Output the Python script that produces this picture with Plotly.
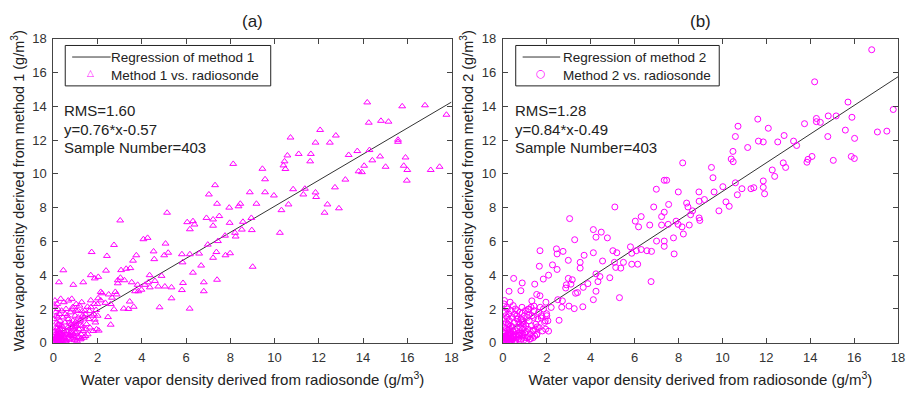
import plotly.graph_objects as go

# ---------------- data ----------------
# Panel (a): method 1 vs radiosonde
x_a = [14.19, 15.77, 16.8, 17.77, 14.26, 14.81, 15.15, 12.06, 12.77, 10.72, 11.85, 12.5, 15.58, 15.58,
       14.29, 13.74, 13.35, 11.64, 11.09, 10.58, 15.92, 14.77, 14.42, 11.61, 10.45, 10.4, 10.49, 8.13,
       14.05, 15.02, 15.84, 16.0, 17.06, 17.46, 13.8, 13.95, 15.98, 13.2, 9.45, 9.57, 7.31, 7.03, 8.88,
       9.57, 9.97, 10.84, 11.37, 11.3, 11.85, 11.88, 12.73,
       7.4, 8.45, 9.18, 7.95, 8.37, 12.39, 12.26, 12.91, 10.31, 10.63, 5.14, 3.02, 6.92, 7.22, 7.5, 7.97,
       8.57, 8.95, 6.05, 6.31, 6.38, 7.22, 6.17, 8.52, 8.21, 8.24, 8.97, 10.24, 7.76,
       1.73, 2.42, 2.74, 3.75, 4.07, 4.26, 4.53, 4.56, 5.07, 5.01, 5.19, 5.81, 5.84, 6.17, 6.59, 6.68,
       6.98, 7.22, 7.37, 7.44, 7.78, 7.99, 9.01, 6.31, 4.89, 4.35, 3.48, 3.6, 3.29, 3.06, 2.38, 1.69,
       2.03, 1.87, 0.45, 1.35, 0.9, 0.25,
       2.91, 3.03, 3.21, 2.91, 3.54, 3.81, 3.69, 3.84, 4.14, 4.29, 4.59, 4.74, 5.04, 5.34, 5.34, 5.86,
       5.81, 6.8, 6.8, 7.4, 6.16, 4.8, 4.36, 3.98, 3.45, 3.63, 3.39, 3.18, 2.74, 2.35,
       2.14, 2.2, 2.5, 2.59, 2.14, 2.02, 1.99, 1.93, 1.84, 1.87, 2.05, 1.63, 1.45, 1.3, 1.03, 1.12, 0.85,
       1.24, 1.21, 1.0, 0.88, 0.64, 2.59, 2.47, 1.69, 1.54, 2.8, 2.86, 2.65,
       0.05, 0.1, 0.15, 0.2, 0.25, 0.3, 0.35, 0.4, 0.05, 0.1, 0.15, 0.2, 0.1, 0.05, 0.2, 0.3, 0.35, 0.45,
       0.5, 0.55, 0.6, 0.65, 0.7, 0.75, 0.8, 0.85, 0.9, 0.95, 1.0, 1.05, 1.1, 1.15, 1.2, 1.25, 1.3, 1.35,
       1.4, 1.45, 1.5, 0.0, 0.02, 0.08, 0.12, 0.18, 0.22, 0.28, 0.32, 0.38, 0.42, 0.48, 0.52, 0.58, 0.62,
       0.68, 0.72, 0.78, 0.82, 0.88, 0.92, 0.98, 0.03, 0.07, 0.13, 0.17, 0.23, 0.27, 0.33, 0.37, 0.43,
       0.47, 0.53, 0.57, 0.63, 0.67, 0.73, 0.77, 0.83, 0.87, 0.93, 0.97, 1.02, 1.07, 1.12, 1.18, 1.22,
       1.28, 1.32, 1.38, 1.42, 1.48, 1.55, 1.6, 1.65, 1.7, 1.75, 1.8, 1.85, 1.9, 1.95, 2.0,
       0.04, 0.09, 0.14, 0.19, 0.24, 0.29, 0.34, 0.39, 0.44, 0.06, 0.11, 0.16, 0.21, 0.26, 0.31, 0.01,
       0.03, 0.07, 0.12, 0.17, 0.22, 0.27, 0.36, 0.46, 0.56, 0.66, 0.76, 0.86, 0.96, 1.06, 1.16, 1.26]
y_a = [14.23, 14.0, 14.06, 13.5, 13.03, 13.14, 13.09, 12.6, 12.27, 12.15, 11.85, 11.85, 12.02, 11.9,
       11.41, 11.35, 11.12, 11.18, 11.18, 11.09, 10.97, 11.03, 10.8, 10.74, 10.74, 10.5, 10.29, 10.59,
       10.48, 10.42, 10.48, 10.23, 10.23, 10.42, 10.15, 10.1, 9.6, 9.66, 10.3, 9.68, 9.33, 8.78, 8.91,
       8.91, 8.72, 9.09, 9.12, 8.78, 8.9, 8.63, 9.2,
       8.23, 8.23, 8.23, 8.0, 8.08, 8.19, 7.7, 7.96, 7.85, 8.19, 7.7, 7.24, 7.39, 7.3, 7.5, 7.1,
       7.16, 7.39, 7.14, 7.2, 7.0, 6.93, 6.72, 6.7, 6.51, 6.29, 6.67, 6.51, 6.34,
       5.37, 5.14, 5.79, 5.18, 6.13, 6.21, 5.41, 4.95, 5.87, 5.18, 5.33, 5.24, 4.76, 5.24, 5.28, 4.57,
       5.81, 5.03, 5.37, 6.02, 5.18, 5.3, 4.5, 4.15, 3.96, 4.0, 4.42, 4.86, 4.38, 4.3, 4.27, 4.0,
       3.9, 3.81, 4.29, 3.58, 3.43, 3.58,
       3.7, 3.85, 3.7, 3.52, 3.58, 3.43, 3.05, 3.05, 3.43, 3.58, 3.66, 3.33, 3.33, 3.28, 2.63, 3.54,
       3.12, 3.58, 3.05, 3.73, 2.02, 2.1, 3.28, 3.14, 2.44, 2.13, 2.0, 2.02, 1.98, 2.36,
       3.01, 2.93, 2.86, 2.29, 2.51, 2.63, 2.29, 1.94, 1.68, 1.37, 0.72, 1.87, 1.68, 1.87, 2.29, 1.9, 1.98,
       1.37, 1.03, 1.22, 0.91, 0.61, 1.07, 1.52, 2.51, 2.13, 3.01, 2.86, 2.67,
       0.1, 0.3, 0.05, 0.5, 0.2, 0.8, 0.4, 0.1, 0.6, 0.9, 1.2, 1.5, 1.8, 2.2, 2.0, 1.3, 1.0, 0.7,
       0.3, 0.05, 0.5, 0.9, 0.2, 0.6, 1.1, 0.4, 0.8, 0.15, 0.6, 1.0, 0.3, 0.8, 1.3, 0.5, 1.0, 0.7,
       1.5, 0.4, 1.1, 0.0, 0.35, 0.15, 0.55, 0.25, 0.75, 0.05, 0.6, 0.25, 0.95, 0.45, 1.2, 0.15, 0.7,
       1.4, 0.45, 0.9, 0.2, 1.3, 0.5, 1.6, 1.4, 2.5, 1.6, 2.3, 1.1, 1.7, 2.6, 1.9, 1.5,
       2.4, 1.7, 2.0, 1.6, 2.5, 1.2, 1.8, 2.6, 2.1, 1.1, 0.3, 1.9, 0.1, 1.5, 2.2, 0.2,
       2.4, 1.6, 0.3, 1.9, 0.8, 0.5, 1.4, 0.9, 2.1, 1.6, 0.7, 2.3, 1.2, 0.8, 1.6,
       0.2, 0.05, 0.35, 0.15, 0.45, 0.1, 0.3, 0.55, 0.2, 0.7, 0.4, 0.85, 0.25, 1.05, 0.5, 0.2,
       0.0, 0.1, 0.25, 0.4, 0.05, 0.6, 0.15, 0.35, 0.1, 0.3, 0.45, 0.55, 0.9, 0.65, 0.35, 0.25]

# Panel (b): method 2 vs radiosonde
x_b = [16.8, 14.2, 15.72, 17.78, 15.9, 15.18, 14.82, 14.28, 14.28, 14.46, 13.74, 11.61, 12.09, 10.71,
       15.6, 17.06, 17.49, 12.81, 14.8, 16.02, 10.59, 11.64, 11.86, 12.52, 13.24, 13.38, 11.15, 10.48,
       15.87, 16.01, 14.08, 13.9, 13.85, 15.05, 10.4, 10.49, 8.19, 12.77, 12.88, 9.5, 12.27, 12.38, 9.57,
       10.59, 11.86, 11.86, 11.92, 10.68, 10.89, 11.3, 11.43, 10.02, 7.35, 7.46, 6.99, 7.99, 8.93, 9.62,
       9.18,
       5.1, 3.04, 6.87, 7.23, 7.35, 7.53, 6.3, 6.03, 6.18, 6.69, 7.23, 7.55, 8.37, 8.43, 8.64, 8.55,
       8.94, 8.94, 8.97, 9.84, 10.16, 10.31, 7.89, 7.98, 8.16, 8.49, 8.22, 7.77, 7.0, 7.35, 7.35, 7.8,
       4.12, 4.48, 4.24, 3.27, 4.76, 1.69, 2.44, 2.47, 2.74, 3.7, 4.12, 5.01, 5.19, 5.81, 5.87, 6.08,
       6.3, 6.56, 6.77, 5.87, 6.14, 6.75, 1.66, 2.26, 2.47, 2.98, 3.52, 3.52, 4.54, 5.08, 5.14, 5.37,
       5.49, 4.24, 4.42, 4.87, 4.33, 3.87, 3.66, 3.4, 3.1, 2.98, 2.89, 2.86, 3.16, 2.08, 1.84, 1.45,
       0.88, 0.82, 0.28, 0.49, 3.31, 4.12, 4.24, 5.31, 3.64, 3.25, 3.01, 2.68, 2.71, 2.5, 2.05, 2.08, 2.56,
       1.54, 1.69, 1.32, 1.96, 2.2, 1.42, 1.63, 1.99, 1.75, 1.93, 1.15, 1.18, 0.88, 0.91, 0.64, 0.7,
       1.57, 1.54, 1.39,
       0.05, 0.1, 0.15, 0.2, 0.25, 0.3, 0.35, 0.4, 0.05, 0.1, 0.15, 0.2, 0.1, 0.05, 0.2, 0.3, 0.35, 0.45,
       0.5, 0.55, 0.6, 0.65, 0.7, 0.75, 0.8, 0.85, 0.9, 0.95, 1.0, 1.05, 1.1, 1.15, 1.2, 1.25, 1.3, 1.35,
       1.4, 1.45, 1.5, 0.0, 0.02, 0.08, 0.12, 0.18, 0.22, 0.28, 0.32, 0.38, 0.42, 0.48, 0.52, 0.58, 0.62,
       0.68, 0.72, 0.78, 0.82, 0.88, 0.92, 0.98, 0.03, 0.07, 0.13, 0.17, 0.23, 0.27, 0.33, 0.37, 0.43,
       0.47, 0.53, 0.57, 0.63, 0.67, 0.73, 0.77, 0.83, 0.87, 0.93, 0.97, 1.02, 1.07, 1.12, 1.18, 1.22,
       1.28, 1.32, 1.38, 1.42, 1.48, 1.55, 1.6, 1.65, 1.7, 1.75, 1.8, 1.85, 1.9, 1.95, 2.0,
       0.04, 0.09, 0.14, 0.19, 0.24, 0.29, 0.34, 0.39, 0.44, 0.06, 0.11, 0.16, 0.21, 0.26, 0.31, 0.01,
       0.03, 0.07, 0.12, 0.17, 0.22, 0.27, 0.36, 0.46, 0.56, 0.66, 0.76, 0.86, 0.96, 1.06, 1.16, 1.26]
y_b = [17.35, 15.45, 14.25, 13.81, 13.35, 13.43, 13.43, 13.28, 13.09, 13.05, 12.97, 13.24, 12.7, 12.82,
       12.59, 12.48, 12.53, 12.27, 12.21, 12.1, 12.21, 11.94, 11.89, 11.89, 11.94, 11.68, 11.56, 11.33,
       11.03, 10.91, 11.03, 10.86, 10.69, 10.8, 10.88, 10.72, 10.65, 10.65, 10.38, 10.38, 10.23, 9.85, 9.77,
       9.47, 9.58, 9.2, 8.82, 8.76, 9.12, 9.12, 9.18, 9.24, 9.62, 9.62, 9.09, 8.93, 8.93, 8.93,
       8.48,
       8.04, 7.35, 8.04, 7.47, 7.73, 7.01, 7.47, 7.2, 6.86, 6.97, 6.97, 8.19, 8.27, 8.04, 7.81, 7.58,
       8.38, 7.39, 7.24, 7.81, 8.34, 8.08, 7.2, 7.01, 6.86, 6.97, 6.44, 6.21, 6.02, 6.02, 5.71, 5.26,
       6.7, 6.55, 6.25, 6.1, 6.21, 5.45, 5.56, 5.26, 5.41, 5.18, 5.33, 5.45, 5.33, 5.68, 5.3, 5.45,
       5.52, 5.45, 5.41, 4.65, 4.65, 3.62, 4.53, 4.61, 4.34, 4.88, 4.76, 4.42, 4.84, 4.76, 4.46, 4.42,
       4.76, 4.08, 3.92, 3.85, 3.62, 3.5, 3.28, 2.97, 3.47, 3.81, 3.43, 3.24, 3.73, 4.0, 3.77, 3.47,
       3.54, 3.08, 3.05, 3.81, 2.93, 2.55, 3.05, 2.67, 2.13, 2.02, 2.17, 2.1, 2.48, 2.55, 1.3, 0.69, 1.33,
       2.86, 2.78, 2.48, 2.4, 2.09, 2.17, 1.8, 1.72, 1.47, 1.3, 1.97, 1.63, 1.75, 1.2, 1.42, 0.47,
       0.94, 0.47, 0.75,
       0.1, 0.3, 0.05, 0.5, 0.2, 0.8, 0.4, 0.1, 0.6, 0.9, 1.2, 1.5, 1.8, 2.3, 2.0, 1.3, 1.0, 0.7,
       0.3, 0.05, 0.5, 0.9, 0.2, 0.6, 1.1, 0.4, 0.8, 0.15, 0.6, 1.0, 0.3, 0.8, 1.3, 0.5, 1.0, 0.7,
       1.5, 0.4, 1.1, 0.0, 0.35, 0.15, 0.55, 0.25, 0.75, 0.05, 0.6, 0.25, 0.95, 0.45, 1.2, 0.15, 0.7,
       1.4, 0.45, 0.9, 0.2, 1.3, 0.5, 1.6, 1.4, 2.5, 1.6, 2.1, 1.1, 1.7, 2.4, 1.9, 1.5,
       2.2, 1.7, 2.0, 1.6, 1.9, 1.2, 1.8, 1.4, 2.1, 1.1, 0.3, 1.9, 0.1, 1.5, 2.0, 0.2,
       2.1, 1.6, 0.3, 1.9, 0.8, 0.5, 1.4, 0.9, 2.1, 1.6, 0.7, 2.0, 1.2, 0.8, 1.6,
       0.2, 0.05, 0.35, 0.15, 0.45, 0.1, 0.3, 0.55, 0.2, 0.7, 0.4, 0.85, 0.25, 1.05, 0.5, 0.2,
       0.0, 0.1, 0.25, 0.4, 0.05, 0.6, 0.15, 0.35, 0.1, 0.3, 0.45, 0.55, 0.9, 0.65, 0.35, 0.25]

# Regression lines as drawn in the reference (end points)
reg_a_x = [0.3, 18.0]
reg_a_y = [0.6, 14.25]
reg_b_x = [0.3, 18.0]
reg_b_y = [0.72, 15.75]

ticks = [0, 2, 4, 6, 8, 10, 12, 14, 16, 18]
legend_a = ["Regression of method 1", "Method 1 vs. radiosonde"]
legend_b = ["Regression of method 2", "Method 2 vs. radiosonde"]
stats_a = ["RMS=1.60", "y=0.76*x-0.57", "Sample Number=403"]
stats_b = ["RMS=1.28", "y=0.84*x-0.49", "Sample Number=403"]

# ---------------- figure ----------------
MAG = "#FF00FF"
TXT = "#222222"
LINE = "#333333"
FONT = "Liberation Sans, Arial, sans-serif"

fig = go.Figure()
fig.add_trace(go.Scatter(x=reg_a_x, y=reg_a_y, mode="lines", line=dict(color=LINE, width=1),
                         name=legend_a[0], xaxis="x", yaxis="y", showlegend=False))
fig.add_trace(go.Scatter(x=x_a, y=y_a, mode="markers",
                         marker=dict(symbol="triangle-up-open", size=6, color=MAG, line=dict(width=1, color=MAG)),
                         name=legend_a[1], xaxis="x", yaxis="y", showlegend=False))
fig.add_trace(go.Scatter(x=reg_b_x, y=reg_b_y, mode="lines", line=dict(color=LINE, width=1),
                         name=legend_b[0], xaxis="x2", yaxis="y2", showlegend=False))
fig.add_trace(go.Scatter(x=x_b, y=y_b, mode="markers",
                         marker=dict(symbol="circle-open", size=6, color=MAG, line=dict(width=1, color=MAG)),
                         name=legend_b[1], xaxis="x2", yaxis="y2", showlegend=False))

W, H = 909, 395
def px(x):
    return x / W
def py(y):
    return 1 - y / H

axis_common = dict(range=[0, 18], tickvals=ticks, ticks="inside", ticklen=5, tickcolor="#444",
                   showline=True, linecolor="#444", linewidth=1, mirror="ticks", showgrid=False,
                   zeroline=False, ticklabelstandoff=3,
                   tickfont=dict(size=13, color="#333", family=FONT))

dom_a = [px(50), px(453)]
dom_b = [px(505), px(905)]
dom_y = [py(349), py(33)]

xt = "Water vapor density derived from radiosonde (g/m<sup>3</sup>)"
fig.update_layout(
    width=W, height=H, margin=dict(l=0, r=0, t=0, b=0),
    paper_bgcolor="white", plot_bgcolor="white",
    font=dict(family=FONT, color=TXT),
    showlegend=False,
    xaxis=dict(domain=dom_a, anchor="y", **axis_common,
               title=dict(text=xt, font=dict(size=15, color=TXT), standoff=10)),
    yaxis=dict(domain=dom_y, anchor="x", **axis_common,
               title=dict(text="Water vapor density derived from method 1 (g/m<sup>3</sup>)",
                          font=dict(size=14.5, color=TXT), standoff=4)),
    xaxis2=dict(domain=dom_b, anchor="y2", **axis_common,
                title=dict(text=xt, font=dict(size=15, color=TXT), standoff=10)),
    yaxis2=dict(domain=dom_y, anchor="x2", **axis_common,
                title=dict(text="Water vapor density derived from method 2 (g/m<sup>3</sup>)",
                           font=dict(size=14.5, color=TXT), standoff=4)),
)

shapes = []
anns = []
# legend boxes (drawn by hand to match the compact boxed legend of the reference)
for (bx0, bx1, lx0, lx1, tx, sx, names, glyph, gsize) in [
        (62, 270, 69, 108, 106, 88, legend_a, "\u25B3", 9),
        (518, 724, 525, 563, 564, 544, legend_b, "\u25CB", 11)]:
    shapes.append(dict(type="rect", xref="paper", yref="paper", x0=px(bx0), x1=px(bx1),
                       y0=py(82), y1=py(40), line=dict(color="#222", width=1), fillcolor="white",
                       layer="above"))
    shapes.append(dict(type="line", xref="paper", yref="paper", x0=px(lx0), x1=px(lx1),
                       y0=py(52), y1=py(52), line=dict(color=LINE, width=1), layer="above"))
    anns.append(dict(text=names[0], x=px(tx), y=py(52), xref="paper", yref="paper", showarrow=False,
                     font=dict(size=13.5, color=TXT), xanchor="left", yanchor="middle"))
    anns.append(dict(text=names[1], x=px(tx), y=py(71), xref="paper", yref="paper", showarrow=False,
                     font=dict(size=13.5, color=TXT), xanchor="left", yanchor="middle"))
    anns.append(dict(text=glyph, x=px(sx), y=py(69), xref="paper", yref="paper", showarrow=False,
                     font=dict(size=gsize, color=MAG, family="DejaVu Sans"), xanchor="center",
                     yanchor="middle"))

anns.append(dict(text="(a)", x=(dom_a[0] + dom_a[1]) / 2, y=py(15), xref="paper", yref="paper",
                 showarrow=False, font=dict(size=17, color=TXT), xanchor="center", yanchor="middle"))
anns.append(dict(text="(b)", x=(dom_b[0] + dom_b[1]) / 2, y=py(15), xref="paper", yref="paper",
                 showarrow=False, font=dict(size=17, color=TXT), xanchor="center", yanchor="middle"))
for i, (sa, sb) in enumerate(zip(stats_a, stats_b)):
    yy = py(108 + 19 * i)
    anns.append(dict(text=sa, x=px(59), y=yy, xref="paper", yref="paper", showarrow=False,
                     font=dict(size=15, color=TXT), xanchor="left", yanchor="middle"))
    anns.append(dict(text=sb, x=px(515), y=yy, xref="paper", yref="paper", showarrow=False,
                     font=dict(size=15, color=TXT), xanchor="left", yanchor="middle"))
fig.update_layout(annotations=anns, shapes=shapes)

fig.write_html("out.html")
